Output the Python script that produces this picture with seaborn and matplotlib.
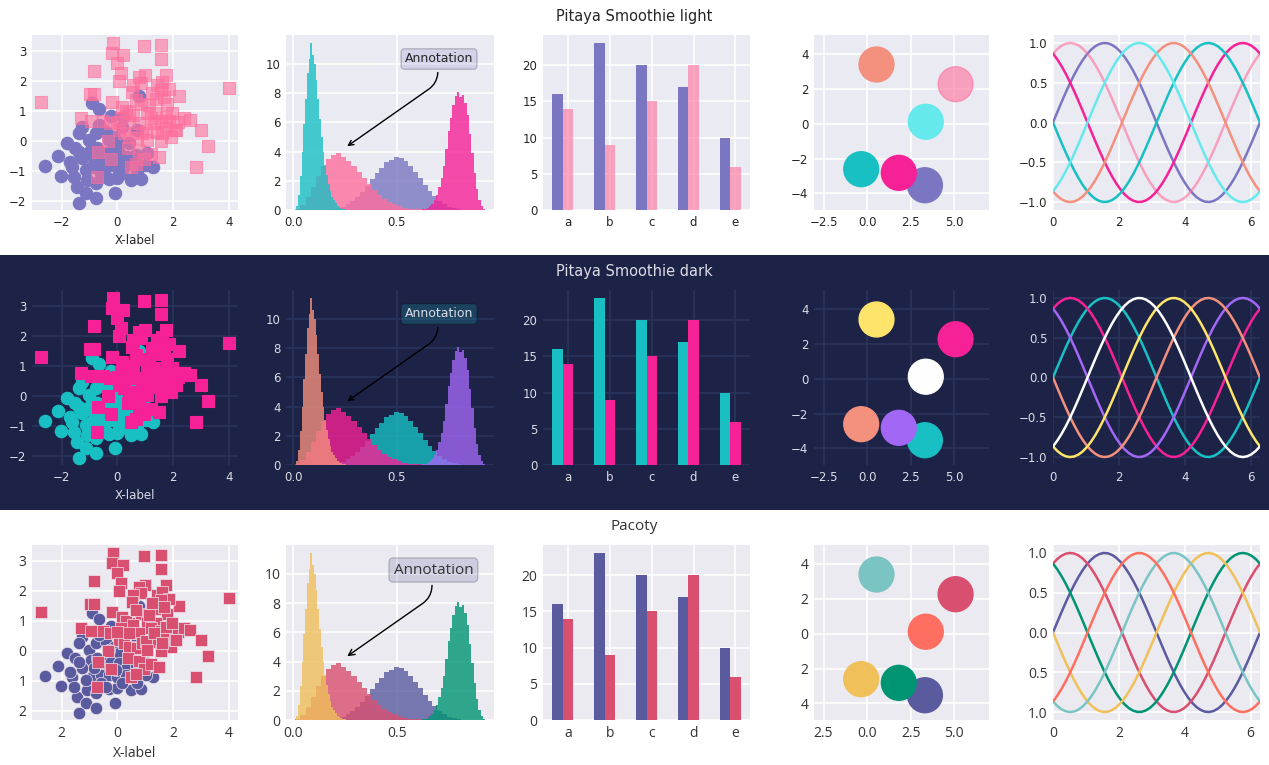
import numpy as np
import pandas as pd
import matplotlib
matplotlib.use("Agg")
import matplotlib.pyplot as plt
from matplotlib.patches import Circle
from matplotlib.ticker import FuncFormatter
from matplotlib.colors import to_rgba
import seaborn as sns

sns.set_theme(style="darkgrid")
plt.rcParams['font.family'] = ['DejaVu Sans']

# ---------------- data ----------------
circle_pts_x = [-0.90, -0.64, -0.24, 0.78, 0.22, 0.72, -1.26, -1.38, -1.80, -1.50, -2.12, -2.60, -2.02, -1.62,
                -1.46, -1.14, -1.38, -0.76, -0.08, -1.08, -0.30, 0.00, 0.48, 0.86, 0.72, 1.28, -1.02, -0.78,
                -0.42, -0.66, -0.12, 0.06, -0.96, -0.72, -1.26, -1.68, -0.48, -0.24, 0.06, 0.36, 0.66, -0.90,
                -0.60, -0.30, 0.00, 0.30, -1.14, -0.60, 0.18, 0.66, 1.08, 0.18, 0.42, -0.30, -1.38, -0.84,
                -0.06, 1.02, -0.42, -0.78, -1.56]
circle_pts_y = [1.27, 1.04, 0.82, 1.49, 0.80, 0.36, 0.47, 0.24, -0.07, -0.26, -0.50, -0.83, -1.17, -0.87,
                -1.53, -1.73, -2.07, -1.92, -1.76, -1.31, -1.29, -1.26, -1.31, -1.29, -1.09, -0.87, 0.02, 0.24,
                0.30, 0.52, 0.13, -0.09, -0.31, -0.26, -0.59, -0.70, -0.42, -0.37, -0.42, -0.53, -0.48, -0.87,
                -0.81, -0.81, -0.87, -0.81, -0.98, -1.09, -1.09, -0.76, -0.42, 0.47, -0.09, 0.02, -0.37, -0.59,
                -0.64, -0.81, -1.20, -1.42, -1.20]

square_pts_x = [-0.14, -0.18, 0.22, 0.97, 1.58, 1.58, 0.00, -0.83, 0.14, 0.06, 1.01, 1.76, 0.78, 0.84,
                0.58, 4.00, -2.74, -0.98, -0.82, -0.18, 2.20, 1.42, 1.62, 1.84, 0.54, 1.56, 1.38, 1.79,
                1.68, 0.18, 0.42, 0.30, 0.85, 1.08, 1.38, -1.32, -0.94, -0.50, -0.26, 0.58, 0.78, 1.20,
                1.56, 1.86, 2.16, 2.40, 2.62, 2.99, 3.24, 0.06, 0.24, 0.42, 0.70, 0.90, 1.44, 1.74,
                1.92, 1.56, 2.06, -0.34, 0.40, 0.78, 0.96, 1.22, 1.48, -0.68, -0.22, 0.48, 0.68, 2.81,
                -0.72, 0.14, 0.42, 1.02, 1.74, 2.10, 0.66, 1.14, 1.32, 1.08, 1.62, 0.00, 1.98, 1.26]
square_pts_y = [3.24, 2.93, 2.87, 3.17, 3.20, 2.73, 2.58, 2.33, 2.27, 2.00, 2.20, 2.20, 2.13, 1.91,
                1.86, 1.77, 1.30, 1.54, 1.54, 1.30, 1.50, 1.86, 1.97, 1.73, 1.63, 1.69, 1.38, 1.22,
                1.47, 1.11, 0.91, 1.00, 1.22, 0.91, 0.91, 0.77, 0.66, 0.66, 0.58, 0.86, 0.58, 0.74,
                0.67, 0.67, 0.63, 0.74, 0.69, 0.36, -0.17, 0.36, 0.24, 0.13, 0.08, 0.24, 0.30, 0.41,
                0.13, 0.00, 0.36, 0.00, -0.26, -0.33, -0.62, -0.44, -0.53, -0.39, -0.62, -0.87, -0.78, -0.87,
                -1.20, 0.74, 0.60, 0.33, 0.80, 0.36, 1.36, 1.19, 0.58, 0.02, 0.24, 0.63, 0.91, 1.58]

# histogram bin heights (density), 30 equal bins over each range
hist_mid_range = (0.16, 0.86)
hist_mid_heights = [0.02, 0.05, 0.12, 0.22, 0.38, 0.60, 0.90, 1.24, 1.66, 2.10, 2.55, 2.90, 3.25, 3.45, 3.62,
                    3.58, 3.35, 3.02, 2.62, 2.18, 1.74, 1.30, 0.94, 0.63, 0.40, 0.23, 0.12, 0.06, 0.03, 0.01]
hist_low_range = (0.01, 0.75)
hist_low_heights = [0.05, 0.33, 0.90, 1.58, 2.35, 3.00, 3.48, 3.78, 3.92, 3.65, 3.38, 3.02, 2.62, 2.17, 1.75,
                    1.38, 1.05, 0.77, 0.56, 0.38, 0.26, 0.17, 0.10, 0.06, 0.04, 0.02, 0.01, 0.01, 0.005, 0.005]
hist_high_range = (0.60, 0.94)
hist_high_heights = [0.01, 0.02, 0.04, 0.08, 0.14, 0.25, 0.42, 0.68, 1.05, 1.55, 2.20, 3.00, 4.20, 5.40, 6.30,
                     7.20, 7.80, 8.10, 7.70, 7.90, 7.30, 6.50, 5.20, 3.90, 2.50, 1.45, 0.70, 0.25, 0.08, 0.02]
hist_peak_range = (0.015, 0.27)
hist_peak_heights = [0.3, 1.0, 2.3, 4.0, 5.9, 7.6, 9.4, 10.3, 11.4, 10.6, 10.0, 8.9, 7.6, 6.2, 5.0,
                     4.0, 3.1, 2.4, 1.8, 1.3, 0.9, 0.65, 0.45, 0.3, 0.2, 0.12, 0.08, 0.05, 0.03, 0.02]

bar_labels = ['a', 'b', 'c', 'd', 'e']
bar_values_a = [16, 23, 20, 17, 10]
bar_values_b = [14, 9, 15, 20, 6]

disc_x = [3.32, 5.08, 1.82, -0.34, 0.54, 3.37]
disc_y = [-3.53, 2.26, -2.82, -2.61, 3.39, 0.11]

sine_phase_over_pi = [0, 1 / 3, 2 / 3, 1, 4 / 3, 5 / 3]

row_titles = ["Pitaya Smoothie light", "Pitaya Smoothie dark", "Pacoty"]
palettes = [
    ['#7a76c2', '#ff6e9c98', '#f62196', '#18c0c4', '#f3907e', '#66e9ec'],
    ['#18c0c4', '#f62196', '#a267f5', '#f3907e', '#ffe46b', '#fefeff'],
    ['#5a5b9f', '#d94f70', '#009473', '#f0c05a', '#7bc4c4', '#ff6f61'],
]

# ---------------- styles ----------------
themes = [
    dict(fig_bg='#ffffff', ax_bg='#eaeaf2', grid='#ffffff', text='#262626', font='DejaVu Sans',
         tick=8.5, title=10.5, ann=9, label=8.5, nominus=False, edge=None, elw=0.8),
    dict(fig_bg='#1c2346', ax_bg='#1c2346', grid='#2b345c', text='#dcdce6', font='DejaVu Sans',
         tick=8.5, title=10.5, ann=9, label=8.5, nominus=False, edge=None, elw=0.8),
    dict(fig_bg='#ffffff', ax_bg='#eaeaf0', grid='#ffffff', text='#333333', font='Open Sans',
         tick=10, title=11, ann=11, label=10, nominus=True, edge='#efe4ec', elw=0.5),
]

W, H = 1269, 765
RH = 255
cols = [(32, 238), (286, 494), (543, 750), (814, 989), (1053, 1260)]
ax_top, ax_bot = 35, 210


def rect(x0, x1):
    return [x0 / W, (RH - ax_bot) / RH, (x1 - x0) / W, (ax_bot - ax_top) / RH]


def fmt(dec, strip):
    if strip:
        return FuncFormatter(lambda v, p: f"{abs(v):.{dec}f}")
    return FuncFormatter(lambda v, p: f"{v:.{dec}f}".replace('-', '\u2212'))


def style_ax(ax, th):
    ax.set_facecolor(th['ax_bg'])
    for s in ax.spines.values():
        s.set_visible(False)
    ax.grid(True, color=th['grid'], linewidth=1.1)
    ax.set_axisbelow(True)
    ax.tick_params(length=0, pad=4, labelsize=th['tick'], labelcolor=th['text'],
                   labelfontfamily=th['font'])
    ax.set_xlabel('')
    ax.set_ylabel('')


fig = plt.figure(figsize=(W / 100, H / 100), dpi=100)
subfigs = fig.subfigures(3, 1, hspace=0, wspace=0)

for r, (sf, th, pal, title) in enumerate(zip(subfigs, themes, palettes, row_titles)):
    sf.set_facecolor(th['fig_bg'])
    sf.suptitle(title, y=1 - 16.5 / RH, va='center', fontsize=th['title'], color=th['text'],
                fontfamily=th['font'])
    cols_rgba = [to_rgba(c) for c in pal]
    axes = [sf.add_axes(rect(*c)) for c in cols]
    nm = th['nominus']

    # 1. scatter
    ax = axes[0]
    for xs, ys, mk, c in [(circle_pts_x, circle_pts_y, 'o', cols_rgba[0]),
                          (square_pts_x, square_pts_y, 's', cols_rgba[1])]:
        ec = th['edge'] if th['edge'] else c[:3]
        sns.scatterplot(x=xs, y=ys, marker=mk, s=80, color=c[:3], alpha=c[3], edgecolor=ec,
                        linewidth=th['elw'], ax=ax, legend=False, zorder=3)
    style_ax(ax, th)
    ax.set_xlim(-3.06, 4.33)
    ax.set_ylim(-2.31, 3.52)
    ax.set_xticks([-2, 0, 2, 4])
    ax.set_yticks([-2, -1, 0, 1, 2, 3])
    ax.xaxis.set_major_formatter(fmt(0, nm))
    ax.yaxis.set_major_formatter(fmt(0, nm))
    ax.set_xlabel('X-label', fontsize=th['label'], color=th['text'], fontfamily=th['font'], labelpad=4)

    # 2. histograms
    ax = axes[1]
    for (lo, hi), hts, c in [(hist_mid_range, hist_mid_heights, cols_rgba[0]),
                             (hist_low_range, hist_low_heights, cols_rgba[1]),
                             (hist_high_range, hist_high_heights, cols_rgba[2]),
                             (hist_peak_range, hist_peak_heights, cols_rgba[3])]:
        edges = np.linspace(lo, hi, len(hts) + 1)
        df = pd.DataFrame({'v': (edges[:-1] + edges[1:]) / 2, 'w': hts})
        sns.histplot(data=df, x='v', weights='w', bins=list(edges), element='step', fill=True,
                     color=c[:3], alpha=0.8, linewidth=0, ax=ax, zorder=2)
    style_ax(ax, th)
    ax.set_xlim(-0.035, 0.971)
    ax.set_ylim(0, 11.97)
    ax.set_xticks([0.0, 0.5])
    ax.set_yticks([0, 2, 4, 6, 8, 10])
    ax.xaxis.set_major_formatter(fmt(1, nm))
    ax.yaxis.set_major_formatter(fmt(0, nm))
    ax.annotate('Annotation', xy=(0.25, 4.25), xytext=(0.9, 0.9), textcoords=ax.transAxes,
                va='top', ha='right', fontsize=th['ann'], color=th['text'], fontfamily=th['font'],
                bbox=dict(boxstyle='round', fc=cols_rgba[0][:3], ec='black', alpha=0.2),
                arrowprops=dict(arrowstyle='->', color='black',
                                connectionstyle='angle,angleA=-95,angleB=35,rad=10'))

    # 3. bars
    ax = axes[2]
    xpos = np.arange(len(bar_labels))
    ax.bar(xpos, bar_values_a, 0.25, color=cols_rgba[0], linewidth=0, zorder=2)
    ax.bar(xpos + 0.25, bar_values_b, 0.25, color=cols_rgba[1], linewidth=0, zorder=2)
    style_ax(ax, th)
    ax.set_xticks(xpos + 0.25, labels=bar_labels)
    ax.set_yticks([0, 5, 10, 15, 20])
    ax.yaxis.set_major_formatter(fmt(0, nm))

    # 4. discs
    ax = axes[3]
    for x, y, c in zip(disc_x, disc_y, cols_rgba):
        ax.add_patch(Circle((x, y), radius=1.0, color=c, zorder=2))
    style_ax(ax, th)
    ax.set_xlim(-3.05, 7.0)
    ax.set_ylim(-4.95, 5.08)
    ax.set_xticks([-2.5, 0.0, 2.5, 5.0])
    ax.set_yticks([-4, -2, 0, 2, 4])
    ax.xaxis.set_major_formatter(fmt(1, nm))
    ax.yaxis.set_major_formatter(fmt(0, nm))

    # 5. sines
    ax = axes[4]
    xx = np.linspace(0, 2 * np.pi, 50)
    for ph, c in zip(sine_phase_over_pi, cols_rgba):
        ax.plot(xx, np.sin(xx + ph * np.pi), color=c, linewidth=1.8, zorder=2)
    style_ax(ax, th)
    ax.set_xlim(0, 2 * np.pi)
    ax.set_ylim(-1.1, 1.1)
    ax.set_xticks([0, 2, 4, 6])
    ax.set_yticks([-1.0, -0.5, 0.0, 0.5, 1.0])
    ax.xaxis.set_major_formatter(fmt(0, nm))
    ax.yaxis.set_major_formatter(fmt(1, nm))

fig.savefig('out.png', dpi=100)
